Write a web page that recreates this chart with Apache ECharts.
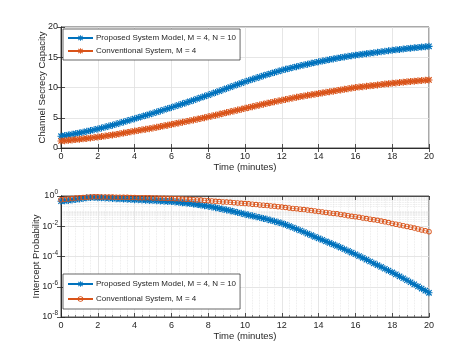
<!DOCTYPE html>
<html>
<head>
<meta charset="utf-8">
<script src="https://cdn.jsdelivr.net/npm/echarts@6/dist/echarts.min.js"></script>
<style>
html,body{margin:0;padding:0;background:#fff;}
#chart{width:474px;height:355px;}
</style>
</head>
<body>
<div id="chart"></div>
<script>
// Time axis (minutes), sampled every 0.2 min
var timeMinutes = [];
for (var i = 0; i <= 100; i++) { timeMinutes.push(+(i * 0.2).toFixed(1)); }

var seriesNames = ['Proposed System Model, M = 4, N = 10', 'Conventional System, M = 4'];
var xLabelName = 'Time (minutes)';
var topYName = 'Channel Secrecy Capacity';
var bottomYName = 'Intercept Probability';

// Top panel: channel secrecy capacity
var capacityProposed = [
 1.95,2.05,2.16,2.27,2.38, 2.5,2.62,2.75,2.88,3.01, 3.15,3.3,3.46,3.62,3.78,
 3.95,4.13,4.31,4.49,4.67, 4.85,5.03,5.21,5.39,5.57, 5.75,5.94,6.13,6.32,6.51,
 6.7,6.9,7.1,7.3,7.5, 7.7,7.91,8.12,8.33,8.54, 8.75,8.97,9.19,9.41,9.63,
 9.85,10.07,10.29,10.51,10.73, 10.95,11.15,11.35,11.55,11.75, 11.95,12.13,12.31,12.49,12.67,
 12.85,13.0,13.15,13.3,13.45, 13.6,13.73,13.86,13.99,14.12, 14.25,14.37,14.49,14.61,14.73,
 14.85,14.95,15.05,15.15,15.25, 15.35,15.43,15.51,15.59,15.67, 15.75,15.83,15.91,15.99,16.07,
 16.15,16.22,16.29,16.36,16.43, 16.5,16.56,16.62,16.68,16.74, 16.8
];
var capacityConventional = [
 1.15,1.21,1.27,1.33,1.39, 1.45,1.52,1.59,1.66,1.73, 1.8,1.89,1.98,2.07,2.16,
 2.25,2.36,2.47,2.58,2.69, 2.8,2.9,3.0,3.1,3.2, 3.3,3.42,3.54,3.66,3.78,
 3.9,4.02,4.14,4.26,4.38, 4.5,4.63,4.76,4.89,5.02, 5.15,5.29,5.43,5.57,5.71,
 5.85,5.99,6.13,6.27,6.41, 6.55,6.69,6.83,6.97,7.11, 7.25,7.38,7.51,7.64,7.77,
 7.9,8.02,8.14,8.26,8.38, 8.5,8.6,8.7,8.8,8.9, 9.0,9.1,9.2,9.3,9.4,
 9.5,9.6,9.7,9.8,9.9, 10.0,10.07,10.14,10.21,10.28, 10.35,10.42,10.49,10.56,10.63,
 10.7,10.76,10.82,10.88,10.94, 11.0,11.05,11.1,11.15,11.2, 11.25
];

// Bottom panel: intercept probability, stored as log10 exponents
var interceptProposedLog10 = [
 -0.35,-0.32,-0.29,-0.26,-0.23, -0.2,-0.16,-0.12,-0.1,-0.1, -0.11,-0.12,-0.13,-0.15,-0.16,
 -0.18,-0.19,-0.2,-0.21,-0.23, -0.24,-0.25,-0.26,-0.28,-0.29, -0.3,-0.31,-0.33,-0.34,-0.36,
 -0.37,-0.39,-0.42,-0.45,-0.47, -0.5,-0.53,-0.57,-0.6,-0.64, -0.68,-0.72,-0.77,-0.82,-0.87,
 -0.92,-0.97,-1.03,-1.09,-1.14, -1.2,-1.26,-1.31,-1.37,-1.42, -1.48,-1.54,-1.61,-1.67,-1.74,
 -1.8,-1.89,-1.99,-2.08,-2.18, -2.28,-2.38,-2.49,-2.59,-2.7, -2.8,-2.9,-3.0,-3.1,-3.2,
 -3.3,-3.41,-3.52,-3.63,-3.74, -3.85,-3.97,-4.09,-4.21,-4.33, -4.45,-4.57,-4.69,-4.81,-4.93,
 -5.05,-5.18,-5.31,-5.44,-5.57, -5.7,-5.84,-5.98,-6.12,-6.26, -6.4
];
var interceptConventionalLog10 = [
 -0.25,-0.22,-0.2,-0.17,-0.14, -0.12,-0.1,-0.08,-0.06,-0.05, -0.05,-0.06,-0.06,-0.07,-0.07,
 -0.08,-0.08,-0.09,-0.09,-0.1, -0.1,-0.11,-0.11,-0.12,-0.12, -0.13,-0.14,-0.15,-0.15,-0.16,
 -0.17,-0.18,-0.19,-0.2,-0.21, -0.22,-0.24,-0.26,-0.27,-0.29, -0.31,-0.33,-0.35,-0.37,-0.39,
 -0.4,-0.42,-0.44,-0.46,-0.48, -0.5,-0.52,-0.54,-0.57,-0.59, -0.61,-0.63,-0.66,-0.68,-0.71,
 -0.73,-0.76,-0.79,-0.82,-0.84, -0.87,-0.9,-0.93,-0.96,-0.99, -1.02,-1.05,-1.09,-1.12,-1.15,
 -1.18,-1.22,-1.26,-1.3,-1.34, -1.37,-1.41,-1.45,-1.49,-1.53, -1.57,-1.61,-1.66,-1.71,-1.76,
 -1.81,-1.86,-1.91,-1.96,-2.01, -2.06,-2.12,-2.18,-2.24,-2.3, -2.36
];

var BLUE = '#0072BD', ORANGE = '#D95319', INK = '#262626';
var FONT = '"Liberation Sans", Arial, Helvetica, sans-serif';
var ASTERISK = 'path://M4.2,0L5.8,0L5.8,10L4.2,10Z M0,4.2L10,4.2L10,5.8L0,5.8Z M0.6,1.8L1.8,0.6L9.4,8.2L8.2,9.4Z M8.2,0.6L9.4,1.8L1.8,9.4L0.6,8.2Z';
var RING = 'path://M0,5A5,5 0 1,0 10,5A5,5 0 1,0 0,5Z M1.6,5A3.4,3.4 0 1,1 8.4,5A3.4,3.4 0 1,1 1.6,5Z';

function pairs(xs, ys, isLog) {
  return xs.map(function (x, i) { return [x, isLog ? Math.pow(10, ys[i]) : ys[i]]; });
}

// log grid lines: minor (2..9 x 10^k, odd decades) dotted
var minorLogGrid = [];
for (var d = -8; d < 0; d++) {
  for (var m = 1; m <= 9; m++) {
    if (m === 1 && d % 2 === 0) continue;
    minorLogGrid.push({ yAxis: m * Math.pow(10, d) });
  }
}

var BOTTOM_SUFFIX = ' ';

var axisLineStyle = { show: true, lineStyle: { color: INK, width: 0.8 } };
var tickIn = { show: true, inside: true, length: 4, lineStyle: { color: INK, width: 0.8 } };
var labelStyle = { color: INK, fontSize: 9, fontFamily: FONT };
var gridLine = { show: true, lineStyle: { color: '#e0e0e0', width: 0.8 } };

function xMain(gridIndex, minor) {
  return {
    type: 'value', gridIndex: gridIndex, min: 0, max: 20, interval: 2,
    axisLine: axisLineStyle, axisTick: tickIn,
    axisLabel: Object.assign({ margin: 4 }, labelStyle),
    splitLine: gridLine,
    minorTick: { show: minor, splitNumber: 5, length: 2, lineStyle: { color: INK, width: 0.6 } },
    minorSplitLine: { show: minor, lineStyle: { color: '#e6e6e6', type: 'dotted', width: 0.8 } },
    name: xLabelName, nameLocation: 'middle', nameGap: 14, nameMoveOverlap: false,
    nameTextStyle: { color: INK, fontSize: 9.5, fontFamily: FONT }
  };
}
function xMirror(gridIndex) {
  return {
    type: 'value', gridIndex: gridIndex, position: 'top', min: 0, max: 20, interval: 2,
    axisLine: axisLineStyle, axisTick: tickIn, axisLabel: { show: false }, splitLine: { show: false }
  };
}
function logAxis(position, showLabel) {
  return {
    type: 'log', logBase: 10, gridIndex: 1, position: position, min: 1e-8, max: 1,
    interval: 2, splitNumber: 4,
    axisLine: axisLineStyle, axisTick: tickIn,
    axisLabel: showLabel ? {
      margin: 3, color: INK, fontSize: 9, fontFamily: FONT,
      formatter: function (v) {
        var e = Math.round(Math.log10(v));
        return '{b|10}{s|' + e + '}';
      },
      rich: {
        b: { fontSize: 9, color: INK, fontFamily: FONT },
        s: { fontSize: 6.5, color: INK, fontFamily: FONT, padding: [0, 0, 7, 0] }
      }
    } : { show: false },
    splitLine: { show: showLabel, lineStyle: { color: '#dedede', width: 0.8 } },
    name: showLabel ? bottomYName : '', nameLocation: 'middle', nameGap: 20, nameMoveOverlap: false,
    nameTextStyle: { color: INK, fontSize: 9.5, fontFamily: FONT }
  };
}

var option = {
  animation: false,
  backgroundColor: '#fff',
  textStyle: { fontFamily: FONT },
  grid: [
    { left: 61, right: 45, top: 27, height: 121, show: true, borderColor: INK, borderWidth: 0.8 },
    { left: 61, right: 45, top: 196, height: 121, show: true, borderColor: INK, borderWidth: 0.8 }
  ],
  legend: [
    {
      orient: 'vertical', left: 63, top: 29, padding: [5, 4], itemGap: 5,
      itemWidth: 25, itemHeight: 7,
      backgroundColor: '#fff', borderColor: INK, borderWidth: 0.7,
      textStyle: { color: INK, fontSize: 8, fontFamily: FONT, padding: [0, 0, 0, -2] },
      data: [seriesNames[0], seriesNames[1]]
    },
    {
      orient: 'vertical', left: 63, top: 274, padding: [6, 4], itemGap: 7,
      itemWidth: 25, itemHeight: 7,
      backgroundColor: '#fff', borderColor: INK, borderWidth: 0.7,
      textStyle: { color: INK, fontSize: 8, fontFamily: FONT, padding: [0, 0, 0, -2] },
      formatter: function (n) { return n.replace(/\s+$/, ''); },
      data: [seriesNames[0] + BOTTOM_SUFFIX, seriesNames[1] + BOTTOM_SUFFIX]
    }
  ],
  xAxis: [xMain(0, false), xMirror(0), xMain(1, true), xMirror(1)],
  yAxis: [
    {
      type: 'value', gridIndex: 0, min: 0, max: 20, interval: 5,
      axisLine: axisLineStyle, axisTick: tickIn,
      axisLabel: Object.assign({ margin: 3 }, labelStyle),
      splitLine: gridLine,
      name: topYName, nameLocation: 'middle', nameGap: 14, nameMoveOverlap: false,
      nameTextStyle: { color: INK, fontSize: 9.5, fontFamily: FONT }
    },
    {
      type: 'value', gridIndex: 0, position: 'right', min: 0, max: 20, interval: 5,
      axisLine: axisLineStyle, axisTick: tickIn, axisLabel: { show: false }, splitLine: { show: false }
    },
    logAxis('left', true),
    logAxis('right', false)
  ],
  series: [
    {
      name: seriesNames[0], type: 'line', xAxisIndex: 0, yAxisIndex: 0,
      data: pairs(timeMinutes, capacityProposed, false),
      symbol: ASTERISK, symbolSize: 7, showAllSymbol: true,
      lineStyle: { color: BLUE, width: 1 }, itemStyle: { color: BLUE }
    },
    {
      name: seriesNames[1], type: 'line', xAxisIndex: 0, yAxisIndex: 0,
      data: pairs(timeMinutes, capacityConventional, false),
      symbol: ASTERISK, symbolSize: 7, showAllSymbol: true,
      lineStyle: { color: ORANGE, width: 1 }, itemStyle: { color: ORANGE }
    },
    {
      name: seriesNames[0] + BOTTOM_SUFFIX, type: 'line', xAxisIndex: 2, yAxisIndex: 2,
      data: pairs(timeMinutes, interceptProposedLog10, true),
      symbol: ASTERISK, symbolSize: 7, showAllSymbol: true,
      lineStyle: { color: BLUE, width: 1 }, itemStyle: { color: BLUE },
      markLine: {
        silent: true, symbol: 'none', animation: false, z: 0,
        label: { show: false },
        lineStyle: { color: '#e3e3e3', type: 'dotted', width: 0.8 },
        emphasis: { disabled: true },
        data: minorLogGrid
      }
    },
    {
      name: seriesNames[1] + BOTTOM_SUFFIX, type: 'line', xAxisIndex: 2, yAxisIndex: 2,
      data: pairs(timeMinutes, interceptConventionalLog10, true),
      symbol: RING, symbolSize: 5.5, showAllSymbol: true,
      lineStyle: { color: ORANGE, width: 0.6 },
      itemStyle: { color: ORANGE, borderWidth: 0 }
    }
  ]
};

var chart = echarts.init(document.getElementById('chart'), null, { renderer: 'canvas' });
chart.setOption(option);
</script>
</body>
</html>
